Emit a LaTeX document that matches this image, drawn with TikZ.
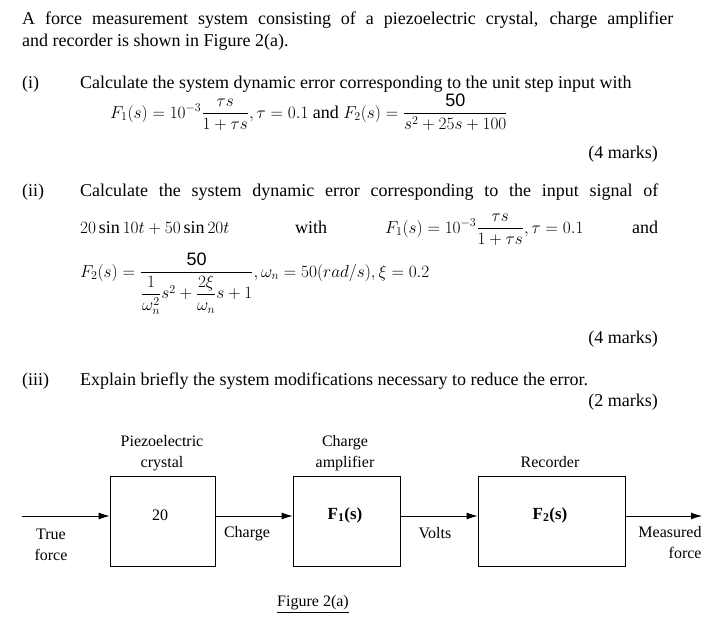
\documentclass[tikz,border=0pt]{standalone}
\usepackage{amsmath}
\usepackage{fontspec}
\setmainfont{Liberation Serif}
\newfontfamily\arial{Liberation Sans}
\usetikzlibrary{arrows.meta}
\begin{document}
\begin{tikzpicture}[x=1pt,y=-1pt,
  txt/.style={anchor=base west,inner sep=0pt,font=\fontsize{18}{22}\selectfont},
  dtxt/.style={inner sep=0pt,font=\fontsize{16}{21}\selectfont,align=center},
  blk/.style={draw,line width=0.8pt,minimum height=90pt,inner sep=0pt},
  flow/.style={line width=0.8pt,-{Latex[length=11pt,width=7pt]}}]
\useasboundingbox[fill=white] (0,0) rectangle (723,621);
\node[txt] (l1) at (22,24) {\makebox[651pt][s]{A force measurement system consisting of a piezoelectric crystal, charge amplifier}};
\node[txt] (l2) at (22,46) {and recorder is shown in Figure 2(a).};
\node[txt] (i) at (22,88) {(i)};
\node[txt] (it) at (80,88) {Calculate the system dynamic error corresponding to the unit step input with};
\node[txt] (if) at (110,118) {$F_1(s)=10^{-3}\dfrac{\tau s}{1+\tau s},\tau=0.1$ and $F_2(s)=\dfrac{\text{\arial 50}}{s^2+25s+100}$};
\node[txt,anchor=base east] (m1) at (658,158) {(4 marks)};
\node[txt] (ii) at (22,196) {(ii)};
\node[txt] (iit) at (80,196) {\makebox[578pt][s]{Calculate the system dynamic error corresponding to the input signal of}};
\node[txt] (iia) at (80,233) {$20\sin 10t+50\sin 20t$};
\node[txt] (iib) at (295,233) {with};
\node[txt] (iic) at (385,233) {$F_1(s)=10^{-3}\dfrac{\tau s}{1+\tau s},\tau=0.1$};
\node[txt] (iid) at (632,233) {and};
\node[txt] (iie) at (80,277) {$F_2(s)=\dfrac{\text{\arial 50}}{\dfrac{1}{\omega_n^2}s^2+\dfrac{2\xi}{\omega_n}s+1},\omega_n=50(rad/s),\xi=0.2$};
\node[txt,anchor=base east] (m2) at (658,343) {(4 marks)};
\node[txt] (iii) at (22,385) {(iii)};
\node[txt] (iiit) at (80,385) {Explain briefly the system modifications necessary to reduce the error.};
\node[txt,anchor=base east] (m3) at (658,406) {(2 marks)};
% diagram
\node[blk,minimum width=105pt] (b1) at (162.5,521) {};
\node[blk,minimum width=107pt] (b2) at (346.5,521) {};
\node[blk,minimum width=147pt] (b3) at (551.5,521) {};
\node[dtxt] at (160,515) {20};
\node[dtxt,font=\fontsize{17}{20}\selectfont\bfseries] at (345,515) {F$_{\mathbf 1}$(s)};
\node[dtxt,font=\fontsize{17}{20}\selectfont\bfseries] at (550,515) {F$_{\mathbf 2}$(s)};
\node[dtxt] (lb1) at (162,453) {Piezoelectric\\crystal};
\node[dtxt] (lb2) at (345,453) {Charge\\amplifier};
\node[dtxt] (lb3) at (550,462) {Recorder};
\coordinate (in) at (22,516);
\coordinate (out) at (702,516);
\draw[flow] (in) -- (b1.west|-in);
\draw[flow] (b1.east|-in) -- (b2.west|-in);
\draw[flow] (b2.east|-in) -- (b3.west|-in);
\draw[flow] (b3.east|-in) -- (out);
\node[dtxt] (tf) at (51,545) {True\\force};
\node[dtxt] (ch) at (247,534) {Charge};
\node[dtxt] (vo) at (435,533) {Volts};
\node[dtxt,align=right] (mf) at (670,543) {Measured\\\hfill force};
\node[dtxt] (fig) at (313,604) {\underline{Figure 2(a)}};
\end{tikzpicture}
\end{document}
